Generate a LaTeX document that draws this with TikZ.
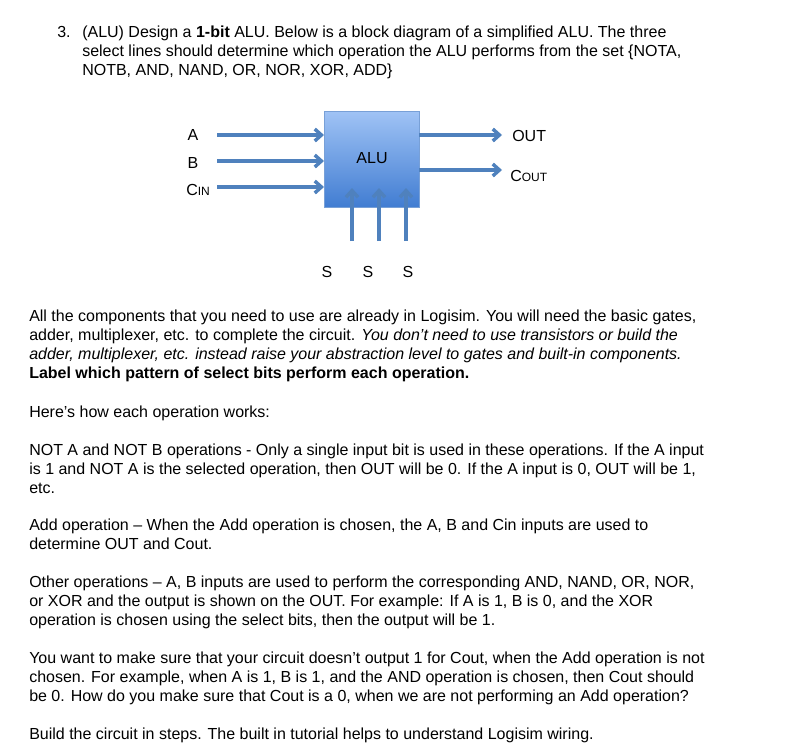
\documentclass[tikz,border=0pt]{standalone}
\usepackage{fontspec}
\setmainfont{Liberation Sans}
\usetikzlibrary{arrows.meta}
\begin{document}
\begin{tikzpicture}[x=0.75pt,y=-0.75pt,
  txt/.style={anchor=base west,inner sep=0pt,font=\fontsize{12}{14}\selectfont},
  lbl/.style={inner sep=0pt,font=\fontsize{12}{14}\selectfont},
  wire/.style={draw={rgb,255:red,79;green,129;blue,189},line width=2.6pt,-{Straight Barb[length=5pt,width=9pt]}}]
\useasboundingbox (0,0) rectangle (812,747);
\node[txt] (n3) at (57,37) {3.};
\node[txt] (l1) at (82,37) {(ALU) Design a \textbf{1-bit} ALU. Below is a block diagram of a simplified ALU. The three};
\node[txt] (l2) at (82,56) {select lines should determine which operation the ALU performs from the set \{NOTA,};
\node[txt] (l3) at (82,75) {NOTB, AND, NAND, OR, NOR, XOR, ADD\}};
% ALU
\shade[top color={rgb,255:red,160;green,195;blue,245},bottom color={rgb,255:red,65;green,125;blue,210}] (324,111) rectangle (419,207);
\draw[draw={rgb,255:red,120;green,160;blue,215},line width=0.6pt] (324,111) rectangle (419,207);
\node[lbl] (alu) at (372,158) {ALU};
\coordinate (ia) at (217,135); \coordinate (ib) at (217,161); \coordinate (ic) at (217,187);
\coordinate (ea) at (324,135); \coordinate (eb) at (324,161); \coordinate (ec) at (324,187);
\draw[wire] (ia) -- (ea); \draw[wire] (ib) -- (eb); \draw[wire] (ic) -- (ec);
\coordinate (oa) at (419,135); \coordinate (ob) at (419,170);
\coordinate (pa) at (502,135); \coordinate (pb) at (502,170);
\draw[wire] (oa) -- (pa); \draw[wire] (ob) -- (pb);
\foreach \x/\n in {352/1,379/2,406/3}{
  \coordinate (s\n) at (\x,241); \coordinate (t\n) at (\x,188);
  \draw[wire] (s\n) -- (t\n);
  \node[lbl] (sl\n) at (\x-25+\n*0,272) {};
}
\node[lbl] (S1) at (327,272) {S};
\node[lbl] (S2) at (368,272) {S};
\node[lbl] (S3) at (408,272) {S};
\node[lbl] (A) at (193,135) {A};
\node[lbl] (B) at (193,163) {B};
\node[lbl,anchor=west] (C) at (186,190) {C\fontsize{9}{10}\selectfont IN};
\node[lbl,anchor=west] (O) at (512,136) {OUT};
\node[lbl,anchor=west] (CO) at (510,176) {C\fontsize{9}{10}\selectfont OUT};
% body
\node[txt] at (29,321) {All the components that you need to use are already in Logisim. You will need the basic gates,};
\node[txt] at (29,340) {adder, multiplexer, etc. to complete the circuit. \textit{You don’t need to use transistors or build the}};
\node[txt] at (29,359) {\textit{adder, multiplexer, etc. instead raise your abstraction level to gates and built-in components.}};
\node[txt] at (29,378) {\textbf{Label which pattern of select bits perform each operation.}};
\node[txt] at (29,417) {Here’s how each operation works:};
\node[txt] at (29,455) {NOT A and NOT B operations - Only a single input bit is used in these operations. If the A input};
\node[txt] at (29,474) {is 1 and NOT A is the selected operation, then OUT will be 0. If the A input is 0, OUT will be 1,};
\node[txt] at (29,493) {etc.};
\node[txt] at (29,530) {Add operation – When the Add operation is chosen, the A, B and Cin inputs are used to};
\node[txt] at (29,549) {determine OUT and Cout.};
\node[txt] at (29,587) {Other operations – A, B inputs are used to perform the corresponding AND, NAND, OR, NOR,};
\node[txt] at (29,606) {or XOR and the output is shown on the OUT. For example: If A is 1, B is 0, and the XOR};
\node[txt] at (29,625) {operation is chosen using the select bits, then the output will be 1.};
\node[txt] at (29,663) {You want to make sure that your circuit doesn’t output 1 for Cout, when the Add operation is not};
\node[txt] at (29,682) {chosen. For example, when A is 1, B is 1, and the AND operation is chosen, then Cout should};
\node[txt] at (29,701) {be 0. How do you make sure that Cout is a 0, when we are not performing an Add operation?};
\node[txt] at (29,739) {Build the circuit in steps. The built in tutorial helps to understand Logisim wiring.};
\end{tikzpicture}
\end{document}
